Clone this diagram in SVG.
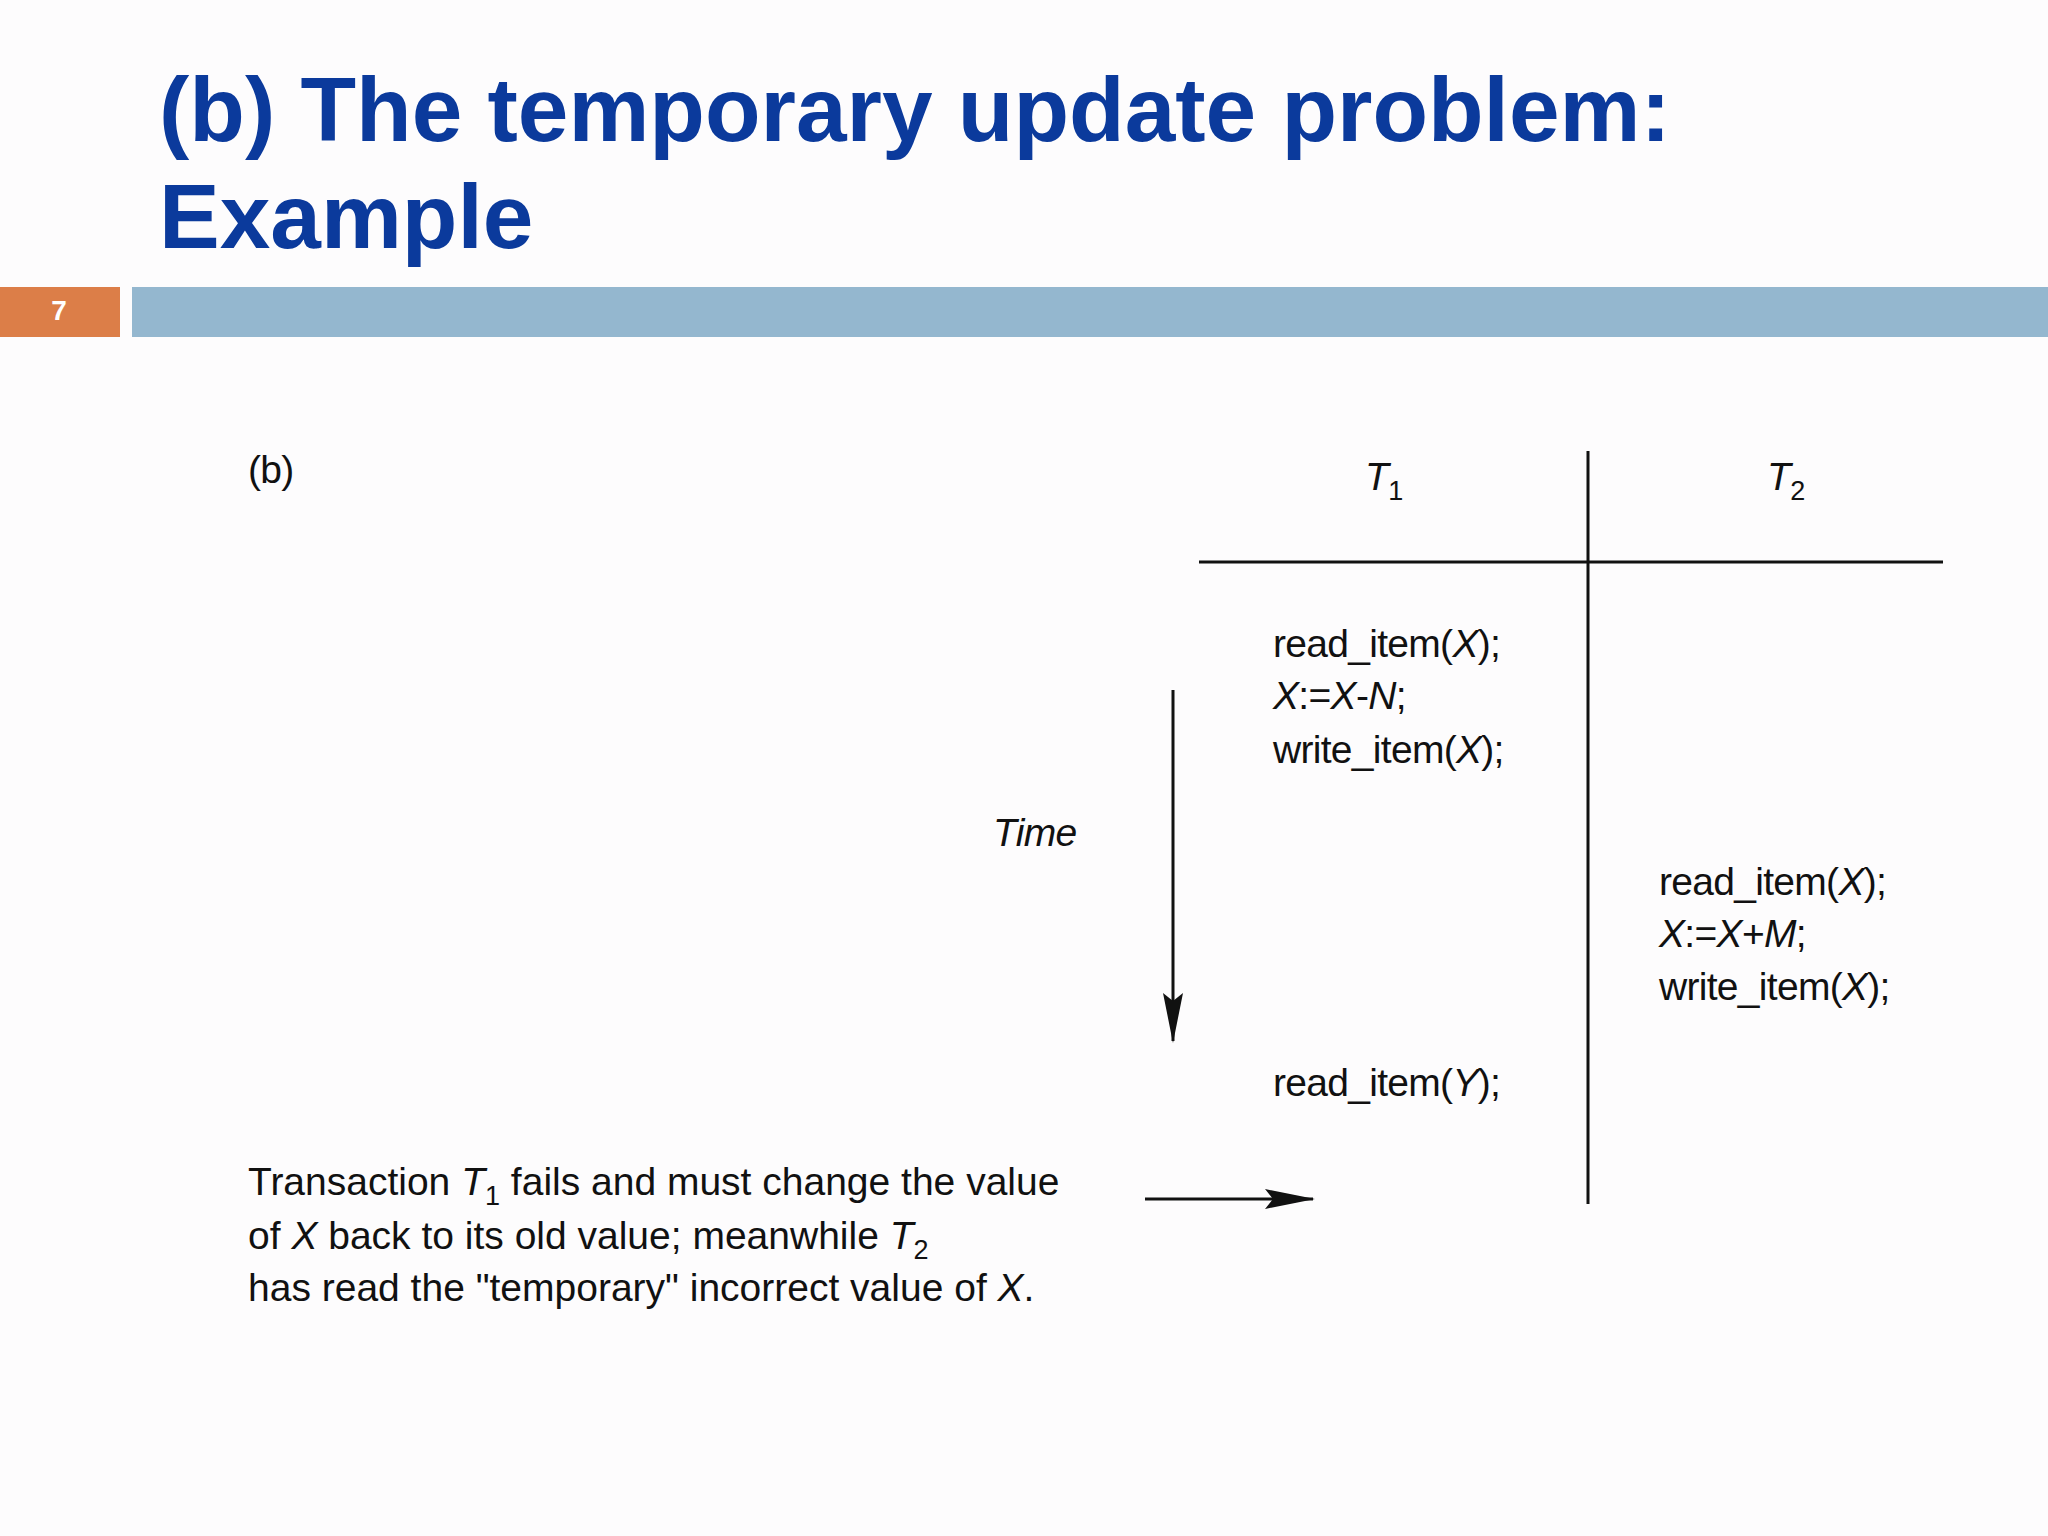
<svg xmlns="http://www.w3.org/2000/svg" width="2048" height="1536" viewBox="0 0 2048 1536">
<style>
.t{font-family:"Liberation Sans",Arial,sans-serif;font-size:39px;fill:#111;letter-spacing:-0.7px}
.n{letter-spacing:0px}
.i{font-style:italic}
.s{font-size:27px;font-style:normal}
.h{font-family:"Liberation Sans",Arial,sans-serif;font-weight:bold;font-size:91px;fill:#0B3A9C}
line{stroke:#111;stroke-width:3}
</style>
<defs>
<marker id="a" viewBox="0 0 50 20" refX="48" refY="10" markerWidth="50" markerHeight="20" markerUnits="userSpaceOnUse" orient="auto"><path d="M0,0 L50,10 L0,20 L8,10 Z" fill="#111"/></marker>
</defs>
<rect width="2048" height="1536" fill="#fdfcfd"/>
<g id="title"><text class="h" x="159" y="141">(b) The temporary update problem:</text><text class="h" x="159" y="248">Example</text></g>
<g id="bars"><rect x="0" y="287" width="120" height="50" fill="#DC7E48"/><text x="59" y="320" text-anchor="middle" font-family="Liberation Sans,Arial,sans-serif" font-weight="bold" font-size="28" fill="#fff">7</text><rect x="132" y="287" width="1916" height="50" fill="#94B7CF"/></g>
<g id="table">
<text class="t" x="248" y="483">(b)</text>
<text class="t i" x="1365" y="490">T<tspan class="s" dy="10">1</tspan></text>
<text class="t i" x="1767" y="490">T<tspan class="s" dy="10">2</tspan></text>
<line x1="1588" y1="451" x2="1588" y2="1204"/>
<line x1="1199" y1="562" x2="1943" y2="562"/>
</g>
<g id="t1ops" class="t"><text x="1273" y="657">read_item(<tspan class="i">X</tspan>);</text><text x="1273" y="709"><tspan class="i">X</tspan>:=<tspan class="i">X</tspan>-<tspan class="i">N</tspan>;</text><text x="1273" y="763">write_item(<tspan class="i">X</tspan>);</text><text x="1273" y="1096">read_item(<tspan class="i">Y</tspan>);</text></g>
<g id="t2ops" class="t"><text x="1659" y="895">read_item(<tspan class="i">X</tspan>);</text><text x="1659" y="947"><tspan class="i">X</tspan>:=<tspan class="i">X</tspan>+<tspan class="i">M</tspan>;</text><text x="1659" y="1000">write_item(<tspan class="i">X</tspan>);</text></g>
<g id="time"><text class="t i" x="993" y="846">Time</text></g>
<g id="note" class="t n"><text x="248" y="1195">Transaction <tspan class="i">T</tspan><tspan class="s" dy="10">1</tspan><tspan dy="-10"> fails and must change the value</tspan></text><text x="248" y="1249">of <tspan class="i">X</tspan> back to its old value; meanwhile <tspan class="i">T</tspan><tspan class="s" dy="10">2</tspan></text><text x="248" y="1301">has read the "temporary" incorrect value of <tspan class="i">X</tspan>.</text></g>
<g id="connectors"><line x1="1173" y1="690" x2="1173" y2="1041" marker-end="url(#a)"/><line x1="1145" y1="1199" x2="1313" y2="1199" marker-end="url(#a)"/></g>
</svg>
